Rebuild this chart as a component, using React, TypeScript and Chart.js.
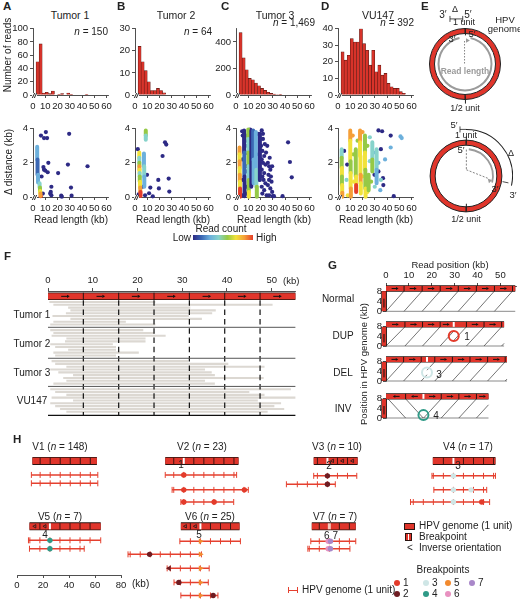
import React, { useEffect, useRef } from 'react';
import { Chart, registerables } from 'chart.js';

Chart.register(...registerables);
const FONT = '"Liberation Sans", Arial, Helvetica, sans-serif';
Chart.defaults.font.family = FONT;
Chart.defaults.color = '#222';

/* ================= DATA ================= */

// A–D histograms: 2.5-kb bins starting at 2.5 kb
const binStartKb = 2.5;
const binWidthKb = 2.5;
const tumor1Counts = [50, 77, 3, 4, 2, 6, 0, 1, 2, 0, 3, 1, 0, 0, 0, 0, 1];
const tumor2Counts = [22, 15, 11, 6, 2, 2, 3, 2, 1];
const tumor3Counts = [470, 280, 190, 125, 115, 90, 70, 50, 35, 20, 12, 6, 4, 2];
const vu147Counts = [26, 21, 24, 34, 32, 32, 40, 31, 27, 18, 27, 14, 18, 12, 13, 7, 5, 4, 4, 2, 1];
const sampleNames = ['Tumor 1', 'Tumor 2', 'Tumor 3', 'VU147'];
const sampleN = ['150', '64', '1,469', '392'];
const histYMax = [100, 30, 500, 40];
const histYStep = [20, 10, 200, 10];

// A–D scatter: read-count colour scale
const readCountColours = ['#2d2a85', '#3b68b4', '#6cb0dc', '#86d3cb', '#95c946', '#f1e23b', '#f59f38', '#e53e2a'];
// streaks: [read length kb, Δ from kb, Δ to kb, colour index]
const tumor1Streaks = [[3.4, 2.95, 2.2, 2], [3.7, 2.2, 1.3, 1], [4.1, 1.3, 0.85, 2], [5.4, 0.8, 0.55, 3], [5.7, 0.55, 0.35, 4], [5.9, 0.35, 0.2, 5], [6.1, 0.2, 0.08, 6]];
// dots: [read length kb, Δ kb, colour index]
const tumor1Dots = [[6.3, 0.05, 7], [6.5, 3.6, 0], [10.5, 3.8, 0], [11.5, 3.45, 0], [9, 3.45, 0], [8.5, 1.75, 0], [9, 1.6, 0], [10, 1.55, 0], [7, 1.2, 0], [12.5, 2.0, 0], [12, 1.45, 0], [15, 0.6, 0], [14.5, 0.3, 0], [15, 0.1, 0], [14, 0.2, 0], [20.5, 1.4, 0], [23, 0.08, 0], [23.5, 0.02, 0], [29.5, 3.7, 0], [28.5, 1.9, 0], [31, 0.55, 0], [31.5, 0.08, 0], [44.5, 1.8, 0], [8, 0.2, 0]];
const tumor2Streaks = [[3.5, 2.6, 2.3, 5], [3.5, 2.3, 2.0, 3], [3.6, 2.0, 1.8, 4], [3.6, 1.8, 1.6, 6], [3.7, 1.6, 1.4, 5], [3.8, 1.4, 1.2, 3], [3.9, 1.2, 0.9, 4], [4.1, 0.9, 0.55, 5], [4.3, 0.55, 0.3, 6], [4.5, 0.3, 0.06, 7], [8.8, 3.9, 3.6, 4], [8.8, 3.6, 3.35, 3], [7.3, 2.55, 1.8, 2], [7.5, 1.8, 1.2, 3], [7.6, 1.2, 0.6, 2]];
const tumor2Dots = [[2.3, 2.8, 0], [11.5, 0.22, 0], [14.5, 0.04, 0], [19, 1.0, 0], [19.5, 0.5, 0], [22.5, 2.4, 0], [24.5, 3.2, 0], [25.5, 3.07, 0], [27.5, 1.08, 0], [28, 0.32, 0], [6, 0.6, 0], [9.8, 1.3, 0], [3, 0.15, 0], [8.2, 0.1, 0], [12.5, 0.55, 0]];
const tumor3Streaks = [[2.9, 2.9, 2.5, 6], [2.9, 2.5, 2.1, 5], [3.0, 2.1, 1.7, 6], [3.0, 1.7, 1.3, 5], [3.1, 1.3, 0.9, 6], [3.2, 0.9, 0.5, 5], [3.3, 0.5, 0.02, 7], [6.6, 3.9, 2.6, 0], [6.8, 2.6, 1.2, 1], [7.0, 1.2, 0.05, 0], [10.0, 3.95, 3.4, 4], [10.0, 3.4, 2.6, 3], [10.2, 2.6, 1.8, 4], [10.2, 1.8, 1.0, 3], [10.4, 1.0, 0.3, 4], [10.5, 0.3, 0.02, 5], [12.5, 3.9, 0.6, 0], [14.0, 3.9, 2.2, 1], [14.4, 2.2, 0.8, 2], [16.2, 3.8, 1.6, 2], [16.6, 1.6, 0.6, 3], [17.0, 0.6, 0.02, 4], [19.5, 3.7, 1.0, 0]];
const tumor3Dots = [[5, 3.85, 0], [5.5, 3.6, 0], [8.2, 3.3, 0], [8, 3.0, 0], [8.5, 2.6, 0], [5.3, 2.2, 0], [8.3, 1.8, 0], [8.7, 1.5, 0], [5.6, 1.0, 0], [8.4, 0.6, 0], [8.8, 0.2, 0], [5.5, 0.1, 0], [11.5, 3.95, 0], [18, 3.7, 0], [21, 3.9, 0], [22, 3.4, 0], [20.5, 3.0, 0], [21.5, 2.7, 0], [23, 2.4, 0], [21, 2.2, 0], [22, 2.0, 0], [24, 1.9, 0], [21, 1.6, 0], [23, 1.4, 0], [21.5, 1.2, 0], [22.5, 1.0, 0], [24, 0.8, 0], [21, 0.6, 0], [23, 0.4, 0], [21.5, 0.2, 0], [25, 0.1, 0], [22, 3.7, 0], [23.5, 3.1, 0], [24.5, 2.6, 0], [26, 2.0, 0], [27, 1.8, 0], [28, 1.6, 0], [26.5, 1.3, 0], [28.5, 1.2, 0], [27, 1.0, 0], [29, 0.9, 0], [26, 0.7, 0], [28, 0.5, 0], [29.5, 0.3, 0], [27, 0.1, 0], [30, 0.05, 0], [25.5, 3.0, 0], [29.5, 1.8, 0], [31, 0.05, 0], [27.5, 2.3, 0], [38, 0.05, 0], [42.5, 3.2, 0], [44, 2.05, 0], [45.5, 1.15, 0], [15.5, 3.2, 1], [18.5, 2.5, 1], [19, 1.0, 1], [13.5, 1.5, 1], [9, 3.6, 1], [12, 2.4, 1]];
const vu147Streaks = [[3, 2.8, 2.3, 3], [3, 2.3, 1.7, 4], [3.2, 1.7, 1.2, 5], [3.2, 1.2, 0.7, 4], [3.4, 0.7, 0.25, 5], [3.5, 0.25, 0.02, 6], [10, 3.9, 3.3, 6], [10, 3.3, 2.1, 5], [10.3, 2.1, 1.4, 4], [10.3, 1.4, 0.5, 5], [10.5, 0.5, 0.02, 6], [14.5, 2.8, 1.2, 4], [14.8, 1.2, 0.75, 5], [14.8, 0.7, 0.3, 7], [18, 3.9, 3.2, 6], [18, 3.2, 2.4, 5], [18.3, 2.4, 1.3, 5], [18.5, 1.3, 0.8, 6], [18.6, 0.8, 0.2, 5], [22, 3.6, 2.6, 4], [22, 2.6, 1.6, 5], [22.3, 1.6, 0.5, 4], [22.5, 0.5, 0.02, 5], [25, 1.3, 0.4, 4], [28, 3.2, 2.2, 3], [28, 2.2, 1.5, 4], [31.5, 2.8, 1.6, 3], [31.5, 1.6, 0.8, 2]];
const vu147Dots = [[33, 3.9, 0], [36, 3.85, 0], [43, 3.6, 0], [51, 3.55, 2], [52, 3.45, 2], [35, 2.8, 0], [37, 0.7, 0], [36.7, 1.1, 0], [33, 1.5, 0], [45.5, 0.05, 0], [43, 2.9, 2], [38.4, 2.2, 2], [29.8, 1.3, 0], [7.5, 1.9, 0], [5, 2.7, 0], [7, 1.0, 3], [12.5, 2.5, 4], [13, 0.9, 5], [16, 3.3, 4], [20, 1.2, 5], [24, 3.0, 4], [26, 2.1, 3], [27, 0.9, 4], [30, 0.6, 3], [33, 2.0, 2], [35, 1.0, 3], [12, 3.6, 6], [20, 3.8, 6], [26, 3.5, 3], [29, 2.6, 2], [24, 0.3, 5], [8, 0.1, 5], [34.5, 0.4, 2]];

// F: reads [start kb, end kb] per sample
const unitKb = 7.9;
const fTumor1Reads = [[0.3, 24.0], [1.2, 50.2], [4.5, 31.8], [5.0, 37.5], [4.0, 36.7], [1.0, 31.5], [5.0, 34.4], [1.2, 17.4], [0.5, 24.0]];
const fTumor2Reads = [[0.5, 21.3], [1.2, 23.8], [0.8, 26.3], [4.1, 21.8], [3.8, 21.8], [0.5, 14.5], [1.6, 15.2], [4.5, 15.2], [1.2, 20.3], [1.6, 15.2]];
const fTumor3Reads = [[0.8, 31.4], [1.6, 40.3], [4.1, 48.4], [0.5, 35.1], [2.3, 36.6], [5.6, 37.3], [3.4, 48.2], [4.1, 35.1], [1.2, 37.3]];
const fVu147Reads = [[0.5, 54.3], [1.6, 45.0], [4.1, 48.4], [0.8, 55.3], [5.6, 46.9], [0.5, 52.1], [1.6, 50.6], [2.7, 52.8], [4.1, 49.1]];
const fReadMaxKb = 55.3;

// G: read position (kb) vs position in HPV genome (kb)
const gNormal = { end: 56.5, dividers: [7.9, 15.8, 23.7, 31.6, 39.5, 47.4, 55.3], bp: null, right: [3.95, 11.85, 19.75, 27.65, 35.55, 43.45, 51.35], left: [], map: [[0, 0, 7.9, 8], [7.9, 0, 15.8, 8], [15.8, 0, 23.7, 8], [23.7, 0, 31.6, 8], [31.6, 0, 39.5, 8], [39.5, 0, 47.4, 8], [47.4, 0, 55.3, 8]], circle: null };
const gDup = { end: 53, dividers: [8.5, 16.4, 24.3, 36.1, 44.0, 51.9], bp: 30.4, right: [4.2, 12.4, 20.3, 27.0, 40.0, 47.9], left: [], map: [[0, 0, 8.5, 8], [8.5, 0, 16.4, 8], [16.4, 0, 24.3, 8], [24.3, 0, 30.4, 6.2], [30.4, 2.3, 36.1, 8], [36.1, 0, 44.0, 8], [44.0, 0, 51.9, 8], [51.9, 0, 53, 1.1]], circle: { x: 30.4, y: 4.2, bp: 1 } };
const gDel = { end: 54.3, dividers: [7.9, 15.8, 21.9, 29.8, 37.7, 45.6, 53.5], bp: 18.4, right: [3.95, 11.85, 25.85, 33.75, 41.65, 49.55], left: [], map: [[0, 0, 7.9, 8], [7.9, 0, 15.8, 8], [15.8, 0, 18.4, 2.6], [18.4, 4.5, 21.9, 8], [21.9, 0, 29.8, 8], [29.8, 0, 37.7, 8], [37.7, 0, 45.6, 8], [45.6, 0, 53.5, 8], [53.5, 0, 54.3, 0.8]], circle: { x: 18.4, y: 3.55, bp: 3 } };
const gInv = { end: 46, dividers: [8.8, 24.8, 32.7, 40.6], bp: 16.8, right: [20.8, 28.75, 36.65, 43.3], left: [4.6, 12.8], map: [[0.9, 8, 8.8, 0], [8.8, 8, 16.7, 0], [16.9, 0, 24.8, 8], [24.8, 0, 32.7, 8], [32.7, 0, 40.6, 8], [40.6, 0, 46, 5.5]], circle: { x: 16.8, y: 1.2, bp: 4 } };

// H: breakpoint colours and variants (kb positions; track = vertical slot)
const bpColours: Record<number, string> = { 1: '#e33b2b', 2: '#6e1c22', 3: '#cfe6e6', 4: '#2f9a87', 5: '#f28a2e', 6: '#e891c0', 7: '#a987c9' };
const hVariants = [
  { name: 'V1', n: '148', phase: 13.8, box: [7.7, 58.5], track: 32, bp: null, inv: [], reads: [{ s: 6.9, e: 59.2, t: 47, dots: [] }, { s: 6.9, e: 59.2, t: 56, dots: [] }] },
  { name: 'V2', n: '23', phase: 126.9, box: [112.3, 170], track: 32, bp: 126.9, inv: [], reads: [{ s: 112.3, e: 168.5, t: 47, dots: [[126.9, 1]] }, { s: 117.7, e: 177.7, t: 63, dots: [[126.9, 1], [174.6, 1]] }, { s: 124.6, e: 166.2, t: 76, dots: [[126.9, 1], [150.8, 1]] }] },
  { name: 'V3', n: '10', phase: 240, box: [229.2, 263.8], track: 32, bp: 240, inv: [244, 251.9, 259.8], reads: [{ s: 229.2, e: 263.1, t: 48, dots: [[240, 2]] }, { s: 207.7, e: 246.2, t: 57, dots: [[240, 2]] }] },
  { name: 'V4', n: '17', phase: 339.2, box: [323, 372.3], track: 32, bp: 339.2, inv: [], reads: [{ s: 322.3, e: 372.3, t: 48, dots: [[339.2, 3]] }, { s: 323.8, e: 365.4, t: 63, dots: [[339.2, 3], [353.1, 3]] }, { s: 305.4, e: 367.7, t: 76, dots: [[339.2, 3], [361.5, 1]] }] },
  { name: 'V5', n: '7', phase: 21.5, box: [5.4, 61.5], track: 102, bp: 21.5, inv: [9.6, 17.6], reads: [{ s: 4.6, e: 61.5, t: 117, dots: [[21.5, 4]] }, { s: 5.4, e: 48.5, t: 126, dots: [[21.5, 4]] }] },
  { name: 'V6', n: '25', phase: 140, box: [124.6, 170.8], track: 102, bp: 140, inv: [128.2, 136], reads: [{ s: 123.8, e: 171.5, t: 118, dots: [[140, 5, 'r']] }, { s: 83, e: 140.8, t: 132, dots: [[100, 2], [140, 5, 'r']] }, { s: 113.8, e: 146.9, t: 147, dots: [[115.4, 2, 'l'], [140, 5, 'r']] }, { s: 119.2, e: 146.2, t: 162, dots: [[123, 2], [140, 5, 'r']] }, { s: 124.6, e: 153.8, t: 176, dots: [[140, 5, 'r'], [150, 2]] }] },
  { name: 'V7', n: '7', phase: 241.5, box: [227.7, 262.3], track: 102, bp: 241.5, inv: [], light: true, reads: [{ s: 226.9, e: 262.3, t: 118, dots: [[240.6, 6], [242.4, 7]] }, { s: 224.6, e: 257.7, t: 126, dots: [[240.6, 6], [242.4, 7]] }] },
];

/* ================= HELPERS ================= */
const RED = '#e0352b';
const DARK = '#2a1411';

function segData(segs: number[][]) {
  const out: any[] = [];
  segs.forEach(([a, b, c, d]) => out.push({ x: a, y: b }, { x: c, y: d }, { x: null, y: null }));
  return out;
}
function lineDs(segs: number[][], color: string, width: number, extra: any = {}) {
  return { data: segData(segs), showLine: true, borderColor: color, backgroundColor: color, borderWidth: width, pointRadius: 0, pointHoverRadius: 0, pointHitRadius: 0, spanGaps: false, clip: false, borderCapStyle: 'butt', ...extra };
}
function markDs(pts: number[][], style: string, radius: number, o: any) {
  return { data: pts.map(([x, y]) => ({ x, y })), showLine: false, pointStyle: style, pointRadius: radius, pointHoverRadius: radius, pointRotation: o.rot ?? 0, pointBackgroundColor: o.fill ?? 'transparent', pointBorderColor: o.stroke ?? 'transparent', pointBorderWidth: o.bw ?? 0, clip: false };
}
function baseOptions(scales: any, padding: any = 0) {
  return { animation: false, responsive: false, maintainAspectRatio: false, devicePixelRatio: 1, events: [], layout: { padding }, plugins: { legend: { display: false }, tooltip: { enabled: false } }, scales };
}
function hidden(min: number, max: number, reverse = false) {
  return { type: 'linear', display: false, min, max, reverse };
}
function axis(o: any) {
  return {
    type: 'linear', position: o.position, min: o.min, max: o.max, reverse: !!o.reverse, offset: false,
    grid: { display: true, drawOnChartArea: false, drawTicks: true, tickLength: 3, color: '#222', lineWidth: 0.8, offset: false },
    border: { display: true, color: '#222', width: 0.8 },
    ticks: { stepSize: o.step, includeBounds: false, autoSkip: false, maxRotation: 0, minRotation: 0, padding: o.pad ?? 2, color: '#222', font: { size: o.font ?? 9.5, family: FONT } },
    afterFit: (s: any) => { if (s.isHorizontal()) s.height = o.size; else s.width = o.size; },
  };
}
function unitTicks(phase: number, s: number, e: number) {
  const out: number[] = [];
  let t = phase - Math.ceil((phase - s) / unitKb) * unitKb;
  for (; t < e - 0.8; t += unitKb) if (t > s + 0.8) out.push(t);
  return out;
}
function scatterDs(list: any[]) { return { type: 'scatter', data: { datasets: list.slice().reverse() } }; }

/* ================= CONFIGS ================= */
function histConfig(counts: number[], yMax: number, yStep: number) {
  const data = counts.map((c, i) => ({ x: binStartKb + binWidthKb * (i + 0.5), y: c > 0 ? c : null }));
  return {
    type: 'bar',
    data: { datasets: [{ data, backgroundColor: '#d8332a', borderColor: '#5e1a14', borderWidth: 0.6, barPercentage: 1, categoryPercentage: 1 }] },
    options: baseOptions({ x: axis({ position: 'bottom', min: 0, max: 62, step: 10, size: 16, pad: 3 }), y: axis({ position: 'left', min: 0, max: yMax, step: yStep, size: 24 }) }, { top: 4, right: 6 }),
  };
}
function readScatterConfig(streaks: number[][], dots: number[][]) {
  const list: any[] = [];
  readCountColours.forEach((col, ci) => {
    const pts = dots.filter((d) => d[2] === ci).map((d) => [d[0], d[1]]);
    if (pts.length) list.push(markDs(pts, 'circle', 2.1, { fill: col }));
  });
  streaks.forEach(([x, a, b, ci]) => list.push(lineDs([[x, a, x, b]], readCountColours[ci], 4.0, { borderCapStyle: 'round' })));
  return { ...scatterDs(list), options: baseOptions({ x: axis({ position: 'bottom', min: 0, max: 62, step: 10, size: 16, pad: 3 }), y: axis({ position: 'left', min: 0, max: 4, step: 2, size: 24 }) }, { top: 5, right: 6 }) };
}
function fConfig() {
  const groups = [fTumor1Reads, fTumor2Reads, fTumor3Reads, fVu147Reads];
  const readSegs: number[][] = [];
  const seps: number[] = [];
  let row = 0;
  groups.forEach((g, gi) => {
    g.forEach(([s, e]) => { readSegs.push([s, row, e, row]); row++; });
    if (gi < groups.length - 1) { seps.push(row); row++; }
  });
  const bottom = row + 0.3;
  const bounds = unitTicks(0, 0.1, fReadMaxKb + 0.5);
  const centers = bounds.map((b) => b - unitKb / 2).concat([bounds[bounds.length - 1] + unitKb / 2]);
  const list = [
    lineDs(readSegs, '#dcd8d2', 2.1),
    lineDs(bounds.map((b) => [b, -0.6, b, bottom]), '#111', 1.2, { borderDash: [5.5, 3.8] }),
    lineDs(seps.map((r) => [0, r, fReadMaxKb, r]), '#555', 1),
    lineDs([[0, bottom, fReadMaxKb, bottom]], '#111', 1.3),
    lineDs([[0, -2, fReadMaxKb, -2]], DARK, 7.5),
    lineDs([[0, -2, fReadMaxKb, -2]], RED, 6),
    markDs(bounds.map((b) => [b, -2]), 'line', 3.6, { stroke: DARK, bw: 1, rot: 90 }),
    lineDs(centers.map((c) => [c - 1.0, -2, c + 0.3, -2]), '#111', 1),
    markDs(centers.map((c) => [c + 0.5, -2]), 'triangle', 1.8, { fill: '#111', rot: 90 }),
  ];
  return { ...scatterDs(list), options: baseOptions({ x: axis({ position: 'top', min: 0, max: fReadMaxKb, step: 10, size: 21, pad: 2 }), y: hidden(-3.9, 40.3, true) }, { left: 48, right: 2, bottom: 3 }) };
}
function gConfig(v: any, top: boolean) {
  const list: any[] = [
    lineDs([[0, 0, v.end, 0]], '#8a8a8a', 1),
    lineDs(v.map, '#3a3a3a', 0.7),
    lineDs([[0, 9, v.end, 9]], DARK, 6.4),
    lineDs([[0, 9, v.end, 9]], RED, 5),
    markDs(v.dividers.map((d: number) => [d, 9]), 'line', 2.6, { stroke: DARK, bw: 1, rot: 90 }),
  ];
  if (v.bp != null) list.push(markDs([[v.bp, 9]], 'line', 2.4, { stroke: '#fff', bw: 2, rot: 90 }));
  list.push(lineDs(v.right.map((a: number) => [a - 1.5, 9, a + 0.5, 9]), '#111', 1));
  list.push(markDs(v.right.map((a: number) => [a + 0.8, 9]), 'triangle', 1.7, { fill: '#111', rot: 90 }));
  if (v.left.length) {
    list.push(lineDs(v.left.map((a: number) => [a - 0.5, 9, a + 1.5, 9]), '#111', 1));
    list.push(markDs(v.left.map((a: number) => [a - 0.8, 9]), 'triangle', 1.7, { fill: '#111', rot: -90 }));
  }
  list.push(lineDs([[-0.9, 0, -0.9, 8]], DARK, 5.4));
  list.push(lineDs([[-0.9, 0.1, -0.9, 7.9]], RED, 4));
  list.push(lineDs([[-0.9, 1.5, -0.9, 5]], '#111', 1));
  list.push(markDs([[-0.9, 5.4]], 'triangle', 1.6, { fill: '#111' }));
  if (v.circle) list.push(markDs([[v.circle.x, v.circle.y]], 'circle', 5, { stroke: bpColours[v.circle.bp], bw: 2 }));
  const x = top ? axis({ position: 'top', min: 0, max: 57, step: 10, size: 18, pad: 2 }) : hidden(0, 57);
  const pad = top ? { right: 3, bottom: 6 } : { top: 6, right: 3, bottom: 6 };
  return { ...scatterDs(list), options: baseOptions({ x, y: axis({ position: 'left', min: 0, max: 10, step: 4, size: 14, pad: 1 }) }, pad) };
}
function hConfig() {
  const boxSegs: number[][] = [], boxDiv: number[][] = [], bpW: number[][] = [], bpL: number[][] = [], inv: number[][] = [];
  const readSegs: number[][] = [], readTicks: number[][] = [];
  const dots: Record<string, number[][]> = {};
  const add = (k: string, p: number[]) => { (dots[k] = dots[k] || []).push(p); };
  hVariants.forEach((v: any) => {
    boxSegs.push([v.box[0], v.track, v.box[1], v.track]);
    unitTicks(v.phase, v.box[0], v.box[1]).forEach((t) => boxDiv.push([t, v.track]));
    if (v.bp != null) (v.light ? bpL : bpW).push([v.bp, v.track]);
    v.inv.forEach((x: number) => inv.push([x, v.track]));
    v.reads.forEach((r: any) => {
      readSegs.push([r.s, r.t, r.e, r.t]);
      [r.s, r.e, ...unitTicks(v.phase, r.s, r.e)].forEach((t) => readTicks.push([t, r.t]));
      r.dots.forEach((d: any) => add(d[1] + (d[2] || 'c'), [d[0], r.t]));
    });
  });
  const list: any[] = [
    lineDs(readSegs, '#e5402f', 1.5),
    markDs(readTicks, 'line', 3, { stroke: '#e5402f', bw: 1, rot: 90 }),
    lineDs(boxSegs, DARK, 8),
    lineDs(boxSegs, RED, 6.2),
    markDs(boxDiv, 'line', 3.2, { stroke: DARK, bw: 0.9, rot: 90 }),
    markDs(bpW, 'line', 3, { stroke: '#fff', bw: 2, rot: 90 }),
    markDs(bpL, 'line', 3, { stroke: '#f6c9bd', bw: 3, rot: 90 }),
    markDs(inv, 'triangle', 2, { stroke: '#1a1a1a', bw: 0.8, rot: -90 }),
  ];
  Object.keys(dots).forEach((k) => {
    const id = parseInt(k, 10);
    const shape = k.slice(-1);
    if (shape === 'c') list.push(markDs(dots[k], 'circle', 2.7, { fill: bpColours[id] }));
    else list.push(markDs(dots[k], 'triangle', 3.2, { fill: bpColours[id], rot: shape === 'r' ? 90 : -90 }));
  });
  return { ...scatterDs(list), options: baseOptions({ x: hidden(-13.08, 386.9), y: hidden(0, 183, true) }) };
}
function scaleBarConfig() {
  return { type: 'scatter', data: { datasets: [] }, options: baseOptions({ x: axis({ position: 'bottom', min: 0, max: 80, step: 20, size: 20, pad: 2 }), y: hidden(0, 1) }, { left: 17, right: 19 }) };
}
function ringConfig(datasets: any[], cutout: string) {
  return { type: 'doughnut', data: { datasets }, options: { animation: false, responsive: false, devicePixelRatio: 1, events: [], cutout, layout: { padding: 0 }, plugins: { legend: { display: false }, tooltip: { enabled: false } } } };
}
const redRing = (w: number) => ({ data: [50, 50], backgroundColor: RED, borderColor: '#222', borderWidth: 1, weight: w });
const spacer = (w: number) => ({ data: [1], backgroundColor: 'rgba(0,0,0,0)', borderWidth: 0, weight: w });
const arcRing = (d: number[], col: string, w: number) => ({ data: d, backgroundColor: ['rgba(0,0,0,0)', col, 'rgba(0,0,0,0)'], borderWidth: 0, weight: w });
function eTopConfig() { return ringConfig([redRing(5), spacer(3), arcRing([12, 336, 12], '#9b9b9b', 2)], '71.8%'); }
function eBottomConfig() { return ringConfig([{ data: [102, 258], backgroundColor: ['#222', 'rgba(0,0,0,0)'], borderWidth: 0, weight: 1 }, spacer(10), redRing(5), spacer(3), arcRing([6, 98, 256], '#9b9b9b', 1.8)], '55.3%'); }
function eOverlayConfig() {
  const list = [
    lineDs([[448, 15, 462, 15], [459, 130, 466, 130]], '#222', 0.8),
    markDs([[448, 15], [462, 15], [459, 130]], 'line', 3, { stroke: '#222', bw: 0.8, rot: 90 }),
    markDs([[509, 185]], 'line', 3, { stroke: '#222', bw: 0.8, rot: 12 }),
    markDs([[465, 28.5], [465, 99.5], [466, 141], [466, 211]], 'line', 3.5, { stroke: '#222', bw: 1, rot: 90 }),
    lineDs([[464, 38, 464, 63]], '#777', 0.9, { borderDash: [1.5, 1.5] }),
    lineDs([[466, 151, 466, 172], [466, 172, 490, 181]], '#777', 0.9, { borderDash: [2, 1.5] }),
    markDs([[467, 37.5]], 'triangle', 2.6, { fill: '#9b9b9b', rot: 90 }),
    markDs([[491.6, 183.3]], 'triangle', 2.6, { fill: '#9b9b9b', rot: 196 }),
  ];
  return { ...scatterDs(list), options: baseOptions({ x: hidden(420, 520), y: hidden(0, 230, true) }) };
}

/* ================= COMPONENTS ================= */
function ChartCanvas({ x, y, w, h, make }: { x: number; y: number; w: number; h: number; make: () => any }) {
  const ref = useRef<HTMLCanvasElement | null>(null);
  useEffect(() => {
    if (!ref.current) return;
    const chart = new Chart(ref.current, make());
    return () => chart.destroy();
  }, []);
  return <canvas ref={ref} width={w} height={h} style={{ position: 'absolute', left: x, top: y, width: w, height: h }} />;
}
function L({ x, y, t, s = 10, a = 'c', b = false, c = '#222', r = 0 }: any) {
  const tx = a === 'c' ? '-50%' : a === 'r' ? '-100%' : '0';
  return <div style={{ position: 'absolute', left: x, top: y, transform: `translate(${tx}, -50%)${r ? ` rotate(${r}deg)` : ''}`, fontSize: s, fontWeight: b ? 700 : 400, color: c, whiteSpace: 'nowrap', lineHeight: 1, fontFamily: FONT }}>{t}</div>;
}
const N = ({ v }: { v: string }) => <span><i>n</i> = {v}</span>;
const Dot = ({ x, y, c }: any) => <div style={{ position: 'absolute', left: x - 3, top: y - 3, width: 6, height: 6, borderRadius: 3, background: c }} />;
// small axis-break mark "//" drawn over the x-axis near its origin
const Brk = ({ x, y }: any) => (
  <div style={{ position: 'absolute', left: x, top: y - 3, width: 5, height: 6, background: '#fff' }}>
    <div style={{ position: 'absolute', left: 0.5, top: 0.5, width: 0.9, height: 5, background: '#222', transform: 'skewX(-25deg)' }} />
    <div style={{ position: 'absolute', left: 3, top: 0.5, width: 0.9, height: 5, background: '#222', transform: 'skewX(-25deg)' }} />
  </div>
);

const panelX0 = [33, 135, 236, 338];
const histCounts = [tumor1Counts, tumor2Counts, tumor3Counts, vu147Counts];
const scStreaks = [tumor1Streaks, tumor2Streaks, tumor3Streaks, vu147Streaks];
const scDots = [tumor1Dots, tumor2Dots, tumor3Dots, vu147Dots];
const titleX = [70, 176, 275, 378];
const nRight = [108, 212, 315, 414];
const nY = [32, 32, 23, 23];

export default function App() {
  return (
    <div style={{ position: 'absolute', left: 0, top: 0, width: 520, height: 608, background: '#fff', overflow: 'hidden', fontFamily: FONT, color: '#222' }}>
      {panelX0.map((x0, i) => (
        <React.Fragment key={i}>
          <ChartCanvas x={x0 - 24} y={21} w={106} h={90} make={() => histConfig(histCounts[i], histYMax[i], histYStep[i])} />
          <ChartCanvas x={x0 - 24} y={121} w={106} h={92} make={() => readScatterConfig(scStreaks[i], scDots[i])} />
          <Brk x={x0 - 1} y={95.5} />
          <Brk x={x0 - 1} y={197.5} />
          <L x={titleX[i]} y={15} t={sampleNames[i]} s={10.5} />
          <L x={nRight[i]} y={nY[i]} t={<N v={sampleN[i]} />} a="r" s={10} />
          <L x={x0 + 38} y={220} t="Read length (kb)" s={10} />
        </React.Fragment>
      ))}
      {['A', 'B', 'C', 'D', 'E'].map((k, i) => <L key={k} x={[3, 117, 221, 321, 421][i]} y={7} t={k} a="l" b s={11.5} />)}
      <L x={8} y={55} t="Number of reads" r={-90} s={10} />
      <L x={9} y={162} t="Δ distance (kb)" r={-90} s={10} />
      <L x={221} y={229} t="Read count" s={10} />
      <L x={191} y={238} t="Low" a="r" s={10} />
      <div style={{ position: 'absolute', left: 193, top: 235, width: 60, height: 5, background: `linear-gradient(to right, ${readCountColours.join(',')})` }} />
      <L x={256} y={238} t="High" a="l" s={10} />

      {/* E */}
      <ChartCanvas x={429} y={28} w={72} h={72} make={eTopConfig} />
      <ChartCanvas x={419} y={129} w={94} h={94} make={eBottomConfig} />
      <ChartCanvas x={420} y={0} w={100} h={230} make={eOverlayConfig} />
      <L x={443} y={15} t="3′" s={10} />
      <L x={455} y={9} t="Δ" s={9} />
      <L x={468} y={15} t="5′" s={10} />
      <L x={464} y={22} t="1 unit" s={9} />
      <L x={505} y={20} t="HPV" s={9.5} />
      <L x={505} y={29} t="genome" s={9.5} />
      <L x={452} y={39} t="3′" s={9.5} />
      <L x={472} y={34} t="5′" s={9.5} />
      <L x={465} y={71} t="Read length" s={8.5} b c="#9b9b9b" />
      <L x={465} y={108} t="1/2 unit" s={9} />
      <L x={454} y={125} t="5′" s={9.5} />
      <L x={466} y={135} t="1 unit" s={9} />
      <L x={511} y={153} t="Δ" s={9} />
      <L x={513} y={195} t="3′" s={9.5} />
      <L x={461} y={150} t="5′" s={9.5} />
      <L x={495} y={189} t="3′" s={9.5} />
      <L x={466} y={219} t="1/2 unit" s={9} />

      {/* F */}
      <L x={4} y={257} t="F" a="l" b s={11.5} />
      <ChartCanvas x={0} y={270} w={300} h={150} make={fConfig} />
      <L x={283} y={281} t="(kb)" a="l" s={9.5} />
      {sampleNames.map((nm, i) => <L key={nm} x={32} y={[315, 344, 373, 401][i]} t={nm} s={10} />)}

      {/* G */}
      <L x={328} y={266} t="G" a="l" b s={11.5} />
      <L x={450} y={265} t="Read position (kb)" s={9.5} />
      <ChartCanvas x={372} y={268} w={148} h={50} make={() => gConfig(gNormal, true)} />
      <ChartCanvas x={372} y={315} w={148} h={38} make={() => gConfig(gDup, false)} />
      <ChartCanvas x={372} y={350} w={148} h={38} make={() => gConfig(gDel, false)} />
      <ChartCanvas x={372} y={387} w={148} h={38} make={() => gConfig(gInv, false)} />
      <L x={338} y={299} t="Normal" s={10} />
      <L x={343} y={336} t="DUP" s={10} />
      <L x={343} y={373} t="DEL" s={10} />
      <L x={343} y={409} t="INV" s={10} />
      <L x={364} y={364} t="Position in HPV genome (kb)" r={-90} s={9.5} />
      <L x={467} y={337} t="1" s={10} />
      <L x={439} y={375} t="3" s={10} />
      <L x={436} y={416} t="4" s={10} />

      {/* H */}
      <L x={13} y={440} t="H" a="l" b s={11.5} />
      <ChartCanvas x={0} y={425} w={520} h={183} make={hConfig} />
      <ChartCanvas x={0} y={558} w={140} h={37} make={scaleBarConfig} />
      <L x={132} y={584} t="(kb)" a="l" s={10} />
      {hVariants.map((v, i) => (
        <L key={v.name} x={[60, 202, 337, 468, 60, 210, 335][i]} y={i < 4 ? 447 : 517} t={<span>{v.name} (<i>n</i> = {v.n})</span>} s={10} />
      ))}
      <L x={181} y={465} t="1" s={10} />
      <L x={329} y={466} t="2" s={10} />
      <L x={458} y={466} t="3" s={10} />
      <L x={45} y={535} t="4" s={10} />
      <L x={199} y={535} t="5" s={10} />
      <L x={331} y={536} t="6 7" s={10} />
      <div style={{ position: 'absolute', left: 404, top: 523, width: 9, height: 5, background: RED, border: `1px solid ${DARK}` }} />
      <L x={419} y={526} t="HPV genome (1 unit)" a="l" s={10} />
      <div style={{ position: 'absolute', left: 405, top: 533, width: 5, height: 6, background: RED, border: `1px solid ${DARK}` }}>
        <div style={{ position: 'absolute', left: 2, top: 0, width: 1.4, height: 6, background: '#fff' }} />
      </div>
      <L x={419} y={537} t="Breakpoint" a="l" s={10} />
      <L x={410} y={548} t="<" s={10} />
      <L x={419} y={548} t="Inverse orientation" a="l" s={10} />
      <L x={443} y={570} t="Breakpoints" s={10} />
      {[[397, 583, 1], [426, 583, 3], [448, 583, 5], [472, 583, 7], [397, 594, 2], [426, 594, 4], [448, 594, 6]].map(([x, y, id]) => (
        <React.Fragment key={id}>
          <Dot x={x} y={y} c={bpColours[id]} />
          <L x={x + 6} y={y} t={String(id)} a="l" s={10} />
        </React.Fragment>
      ))}
      <div style={{ position: 'absolute', left: 288, top: 589.5, width: 10, height: 1.6, background: '#e5402f' }} />
      <div style={{ position: 'absolute', left: 288, top: 587, width: 1, height: 6, background: '#e5402f' }} />
      <div style={{ position: 'absolute', left: 297, top: 587, width: 1, height: 6, background: '#e5402f' }} />
      <L x={302} y={590} t="HPV genome (1 unit)" a="l" s={10} />
    </div>
  );
}
